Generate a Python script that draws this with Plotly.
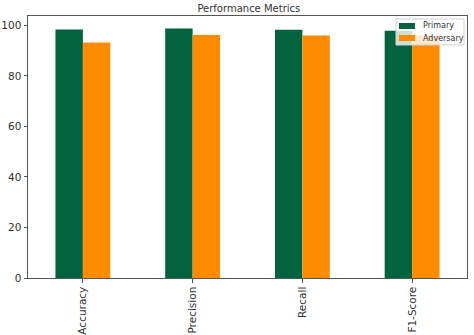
import plotly.graph_objects as go

# Metric names and scores (%) for each model
metrics = ["Accuracy", "Precision", "Recall", "F1-Score"]
primary = [98.4, 98.8, 98.3, 97.9]
adversary = [93.2, 96.2, 96.0, 96.0]
series_names = ["Primary", "Adversary"]

green = "#03633F"
orange = "#FF8C00"
colors = [green, orange]

W, H = 474, 335
ML, MR, MT, MB = 28, 7, 16, 57
PW, PH = W - ML - MR, H - MT - MB


def px(x):
    return (x - ML) / PW


def py(y):
    return (H - MB - y) / PH


fig = go.Figure()
for i, (name, vals) in enumerate(zip(series_names, [primary, adversary])):
    fig.add_trace(go.Bar(x=metrics, y=vals, name=name, marker_color=colors[i],
                         marker_line_width=0, offsetgroup=i, showlegend=False))

ymax = max(primary + adversary) * 1.05

# compact legend box in the upper-right corner
shapes = [dict(type="rect", xref="paper", yref="paper", layer="above",
               x0=px(396), x1=px(464), y0=py(45), y1=py(19),
               fillcolor="rgba(255,255,255,0.8)", line=dict(color="#d0d0d0", width=1))]
annotations = []
for i, name in enumerate(series_names):
    yc = 26 + 12 * i
    shapes.append(dict(type="rect", xref="paper", yref="paper", layer="above",
                       x0=px(399), x1=px(415), y0=py(yc + 3), y1=py(yc - 3),
                       fillcolor=colors[i], line=dict(width=0)))
    annotations.append(dict(text=name, xref="paper", yref="paper", x=px(421), y=py(yc),
                            xanchor="left", yanchor="middle", showarrow=False,
                            font=dict(size=8, color="#333")))

fig.update_layout(
    width=W, height=H,
    margin=dict(l=ML, r=MR, t=MT, b=MB),
    paper_bgcolor="white", plot_bgcolor="white",
    barmode="group", bargap=0.5, bargroupgap=0,
    font=dict(family="DejaVu Sans", size=10.5, color="#333"),
    title=dict(text="Performance Metrics", x=0.525, xanchor="center",
               y=0.985, yanchor="top", font=dict(size=10, color="#333")),
    showlegend=False,
    shapes=shapes,
    annotations=annotations,
)
fig.update_xaxes(range=[-0.5, 3.5], tickangle=-90, showline=True, linecolor="#555",
                 linewidth=1, mirror=True, ticks="outside", ticklen=3.5,
                 tickcolor="#555", showgrid=False, automargin=False,
                 tickfont=dict(size=10.5, color="#333"))
fig.update_yaxes(range=[0, ymax], tickvals=[0, 20, 40, 60, 80, 100], showline=True,
                 linecolor="#555", linewidth=1, mirror=True, ticks="outside",
                 ticklen=3.5, tickcolor="#555", showgrid=False, zeroline=False,
                 automargin=False, tickfont=dict(size=10.5, color="#333"))

fig.write_html("out.html")
